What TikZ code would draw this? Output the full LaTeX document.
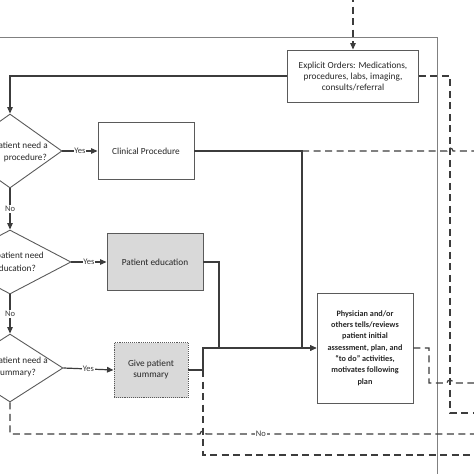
\documentclass[tikz,border=0pt]{standalone}
\usepackage{fontspec}
\setmainfont{Carlito}
\usetikzlibrary{shapes.geometric,arrows.meta}
\definecolor{ln}{HTML}{3C3C3C}
\definecolor{bd}{HTML}{5A5A5A}
\definecolor{shade}{HTML}{D9D9D9}
\definecolor{frame}{HTML}{808080}
\begin{document}
\begin{tikzpicture}[x=1pt,y=-1pt,
  box/.style={draw=bd, line width=0.9pt, align=center, inner sep=2pt, text=black!85, font=\fontsize{9.3}{11}\selectfont},
  dia/.style={diamond, draw=bd, line width=0.9pt, inner sep=0pt},
  conn/.style={draw=ln, line width=1.2pt},
  arr/.style={-{Triangle[length=6.5pt,width=5.5pt]}},
  dsh/.style={dash pattern=on 7pt off 4.5pt},
  lbl/.style={fill=white, inner sep=0.8pt, text=ln, font=\fontsize{8.5}{9}\selectfont},
  dtxt/.style={inner sep=0pt, text=black!85, font=\fontsize{9.2}{10}\selectfont}]
\useasboundingbox (0,0) rectangle (474,474);
\clip (0,0) rectangle (474,474);

% outer frame
\draw[frame, line width=0.8pt] (-5,37) -- (437,37) -- (437,480);

% boxes
\node[box, minimum width=131pt, minimum height=52pt] (eo) at (353,76) {Explicit Orders: Medications,\\procedures, labs, imaging,\\consults/referral};
\node[box, minimum width=96pt, minimum height=57pt] (cp) at (146,151) {Clinical Procedure};
\node[box, fill=shade, minimum width=96pt, minimum height=57pt] (pe) at (155,262) {Patient education};
\node[box, fill=shade, densely dotted, minimum width=74pt, minimum height=55pt] (gs) at (151,370) {Give patient\\summary};
\node[box, minimum width=96pt, minimum height=110pt, font=\bfseries\fontsize{8.2}{11.3}\selectfont] (ph) at (365,348) {Physician and/or\\others tells/reviews\\patient initial\\assessment, plan, and\\``to do'' activities,\\motivates following\\plan};

% decisions
\node[dia, minimum width=104pt, minimum height=74pt] (d1) at (10,151) {};
\node[dia, minimum width=122pt, minimum height=64pt] (d2) at (10,262) {};
\node[dia, minimum width=106pt, minimum height=68pt] (d3) at (10,368) {};
\node[dtxt, anchor=east] (t1a) at (48,146) {Does patient need a};
\node[dtxt, anchor=east] (t1b) at (47,158) {procedure?};
\node[dtxt, anchor=east] (t2a) at (44,256) {Does patient need};
\node[dtxt, anchor=east] (t2b) at (36,268) {education?};
\node[dtxt, anchor=east] (t3a) at (48,361) {Does patient need a};
\node[dtxt, anchor=east] (t3b) at (36,373) {summary?};

% coordinates
\coordinate (topin) at (353,-5);
\coordinate (j1) at (302,151);
\coordinate (j2) at (219,348);
\coordinate (j3) at (203,348);
\coordinate (j4) at (203,370);
\coordinate (e1) at (480,151);
\coordinate (e2) at (480,413);
\coordinate (e3) at (480,383);
\coordinate (e4) at (480,434);
\coordinate (e5) at (480,455);
\coordinate (v1) at (450,76);
\coordinate (p1) at (429,348);

% solid connectors
\draw[conn, arr] (eo.west) -| (d1.north);
\draw[conn, arr] (d1.east) -- node[lbl] {Yes} (cp.west);
\draw[conn, arr] (d2.east) -- node[lbl] {Yes} (pe.west);
\draw[conn, arr] (d3.east) -- node[lbl] {Yes} (gs.west);
\draw[conn, arr] (d1.south) -- node[lbl] {No} (d2.north);
\draw[conn, arr] (d2.south) -- node[lbl] {No} (d3.north);
\draw[conn, arr] (cp.east) -- (j1) |- (ph.west);
\draw[conn] (pe.east) -| (j2);
\draw[conn, arr] (gs.east) -| (j3) -- (ph.west);

% dashed connectors
\draw[conn, dsh, arr] (topin) -- (eo.north);
\draw[conn, dsh] (eo.east) -- (v1) |- (e2);
\draw[conn, dsh] (j1) -- (447,151) arc[start angle=180, end angle=0, radius=3pt] -- (e1);
\draw[conn, dsh] (ph.east) -- (p1) |- (447,383) arc[start angle=180, end angle=0, radius=3pt] -- (e3);
\draw[conn, dsh] (d3.south) |- (200,434) arc[start angle=180, end angle=0, radius=3pt] -- node[lbl, pos=0.2] {No} (e4);
\draw[conn, dsh] (j4) |- (e5);
\end{tikzpicture}
\end{document}
